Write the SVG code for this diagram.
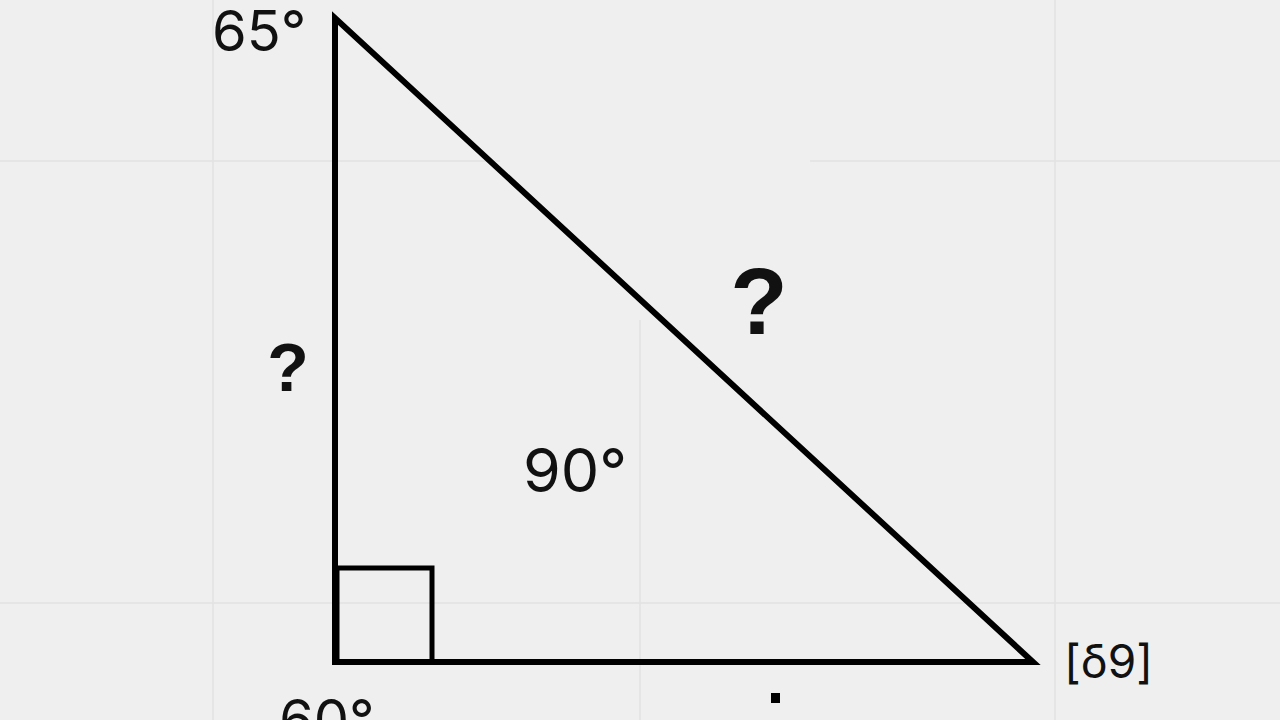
<svg xmlns="http://www.w3.org/2000/svg" width="1280" height="720" viewBox="0 0 1280 720">
<style>
.grid{stroke:#e2e2e2;stroke-width:1.5;fill:none}
.lbl{font-family:"Inter","Liberation Sans",sans-serif;fill:#111}
.q{font-family:"Liberation Sans",sans-serif;font-weight:bold;fill:#111}
</style>
<rect width="1280" height="720" fill="#efefef"/>
<g id="grid">
<line class="grid" x1="213" y1="0" x2="213" y2="720"/>
<line class="grid" x1="640" y1="320" x2="640" y2="720"/>
<line class="grid" x1="1055" y1="0" x2="1055" y2="720"/>
<line class="grid" x1="0" y1="161" x2="500" y2="161"/>
<line class="grid" x1="810" y1="161" x2="1280" y2="161"/>
<line class="grid" x1="0" y1="603" x2="1280" y2="603"/>
</g>
<g id="triangle">
<polygon points="335,18 335,662 1033,662" fill="none" stroke="#000" stroke-width="6" stroke-linejoin="miter"/>
<rect x="337" y="568" width="95" height="94" fill="none" stroke="#000" stroke-width="5"/>
<rect x="771" y="693" width="9" height="10" fill="#000"/>
</g>
<g id="labels">
<text class="lbl" x="212" y="51" font-size="56">65°</text>
<text class="q" x="288" y="391" font-size="68" text-anchor="middle">?</text>
<text class="q" x="759" y="334" font-size="94" text-anchor="middle">?</text>
<text class="lbl" x="523" y="492" font-size="61">90°</text>
<text class="lbl" x="1064" y="678" font-size="46">[δ9]</text>
<text class="lbl" x="279" y="740" font-size="56">60°</text>
</g>
</svg>
